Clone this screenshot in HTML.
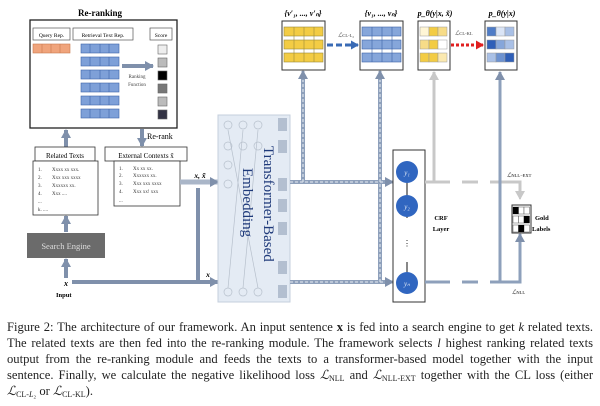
<!DOCTYPE html>
<html><head><meta charset="utf-8"><style>
body{margin:0;background:#fff;width:600px;height:406px;overflow:hidden}
svg{position:absolute;left:0;top:0}
.cap{position:absolute;left:7px;top:319px;width:586px;font-family:"Liberation Serif",serif;font-size:12.6px;line-height:16px;color:#222;text-align:justify}
.cap sub{font-size:8px;line-height:0;vertical-align:-2px}
.nw{white-space:nowrap}
</style></head><body>
<svg width="600" height="310" viewBox="0 0 600 310" font-family="Liberation Serif, serif">
<defs>
<marker id="ab" markerUnits="userSpaceOnUse" markerWidth="9" markerHeight="10" refX="8" refY="5" orient="auto"><path d="M0,0L9,5L0,10z" fill="#7f90ab"/></marker>
<marker id="ag" markerUnits="userSpaceOnUse" markerWidth="9" markerHeight="10" refX="8" refY="5" orient="auto"><path d="M0,0L9,5L0,10z" fill="#c8c8c8"/></marker>
<marker id="ad" markerUnits="userSpaceOnUse" markerWidth="8" markerHeight="9" refX="7" refY="4.5" orient="auto"><path d="M0,0L8,4.5L0,9z" fill="#3a6bb5"/></marker>
<marker id="ar" markerUnits="userSpaceOnUse" markerWidth="8" markerHeight="9" refX="7" refY="4.5" orient="auto"><path d="M0,0L8,4.5L0,9z" fill="#e02020"/></marker>
</defs>
<text x="100" y="16" font-size="9" font-weight="bold" text-anchor="middle">Re-ranking</text>
<rect x="30" y="20" width="147" height="108" fill="#fff" stroke="#222" stroke-width="1.3"/>
<rect x="33" y="28" width="37" height="12" fill="#fff" stroke="#555" stroke-width=".7"/>
<text x="51.5" y="37" font-size="5.5" text-anchor="middle">Query Rep.</text>
<rect x="73" y="28" width="60" height="12" fill="#fff" stroke="#555" stroke-width=".7"/>
<text x="103" y="37" font-size="5.5" text-anchor="middle">Retrieval Text Rep.</text>
<rect x="150" y="28" width="22" height="12" fill="#fff" stroke="#555" stroke-width=".7"/>
<text x="161" y="37" font-size="5.5" text-anchor="middle">Score</text>
<g stroke="#c97a50" stroke-width=".6" fill="#f0a47c"><rect x="33" y="44" width="37" height="9"/><path d="M42,44v9M51,44v9M60,44v9"/></g>
<g fill="#7ea0d8" stroke="#3f64a8" stroke-width=".6">
<rect x="81" y="44" width="38" height="9"/><rect x="81" y="57" width="38" height="9"/><rect x="81" y="70" width="38" height="9"/><rect x="81" y="83" width="38" height="9"/><rect x="81" y="96" width="38" height="9"/><rect x="81" y="109" width="38" height="9"/>
<path d="M90,44v9M100,44v9M109,44v9M90,57v9M100,57v9M109,57v9M90,70v9M100,70v9M109,70v9M90,83v9M100,83v9M109,83v9M90,96v9M100,96v9M109,96v9M90,109v9M100,109v9M109,109v9"/></g>
<path d="M122,66H153" stroke="#7f90ab" stroke-width="4" marker-end="url(#ab)"/>
<text x="137" y="78" font-size="5" text-anchor="middle" fill="#444">Ranking</text>
<text x="137" y="86" font-size="5" text-anchor="middle" fill="#444">Function</text>
<g stroke="#666" stroke-width=".6"><rect x="158" y="45" width="9" height="9" fill="#eee"/><rect x="158" y="58" width="9" height="9" fill="#bbb"/><rect x="158" y="71" width="9" height="9" fill="#000"/><rect x="158" y="84" width="9" height="9" fill="#777"/><rect x="158" y="97" width="9" height="9" fill="#bbb"/><rect x="158" y="110" width="9" height="9" fill="#334"/></g>
<path d="M66,147V130" stroke="#7f90ab" stroke-width="4" marker-end="url(#ab)"/>
<path d="M142,129V146" stroke="#7f90ab" stroke-width="4" marker-end="url(#ab)"/>
<text x="147" y="139" font-size="8">Re-rank</text>
<path d="M66,232V216" stroke="#7f90ab" stroke-width="4" marker-end="url(#ab)"/>
<path d="M66,278V259" stroke="#7f90ab" stroke-width="4" marker-end="url(#ab)"/>
<rect x="35" y="147" width="60" height="14" fill="#fff" stroke="#333" stroke-width=".8"/>
<text x="65" y="158" font-size="7" text-anchor="middle">Related Texts</text>
<rect x="33" y="161" width="65" height="54" fill="#fff" stroke="#333" stroke-width=".8"/>
<g font-size="5" fill="#333"><text x="38" y="171">1.</text><text x="52" y="171">Xxxx xx xxx.</text><text x="38" y="179">2.</text><text x="52" y="179">Xxx xxx xxxx</text><text x="38" y="187">3.</text><text x="52" y="187">Xxxxxx xx.</text><text x="38" y="195">4.</text><text x="52" y="195">Xxx ....</text><text x="38" y="203">...</text><text x="38" y="211">k.   ....</text></g>
<rect x="105" y="147" width="82" height="14" fill="#fff" stroke="#333" stroke-width=".8"/>
<text x="146" y="158" font-size="7" text-anchor="middle">External Contexts x̃</text>
<rect x="114" y="161" width="66" height="45" fill="#fff" stroke="#333" stroke-width=".8"/>
<g font-size="5" fill="#333"><text x="119" y="170">1.</text><text x="133" y="170">Xx xx xx.</text><text x="119" y="177">2.</text><text x="133" y="177">Xxxxxx xx.</text><text x="119" y="185">3.</text><text x="133" y="185">Xxx xxx xxxx</text><text x="119" y="193">4.</text><text x="133" y="193">Xxx xx! xxx</text><text x="119" y="202">...</text></g>
<rect x="27" y="233" width="78" height="25" fill="#6b6b6b"/>
<text x="66" y="249" font-size="8.5" text-anchor="middle" fill="#ddd">Search Engine</text>
<text x="66" y="286" font-size="8" font-style="italic" font-weight="bold" text-anchor="middle">x</text>
<text x="56" y="297" font-size="6.5" font-weight="bold">Input</text>
<path d="M72,282H218" stroke="#7f90ab" stroke-width="4" marker-end="url(#ab)"/>
<path d="M198,282V188" stroke="#7f90ab" stroke-width="4"/>
<path d="M180,182H218" stroke="#aab6c8" stroke-width="5" marker-end="url(#ab)"/>
<text x="200" y="178" font-size="7.5" font-style="italic" font-weight="bold" text-anchor="middle">x, x̃</text>
<text x="208" y="277" font-size="7.5" font-style="italic" font-weight="bold" text-anchor="middle">x</text>
<rect x="218" y="115" width="72" height="187" fill="#e4ebf4" stroke="#c5cfdc"/>
<g fill="none" stroke="#b7c0cc" stroke-width=".7">
<circle cx="228" cy="125" r="4"/><circle cx="243" cy="125" r="4"/><circle cx="258" cy="125" r="4"/>
<circle cx="228" cy="146" r="4"/><circle cx="243" cy="146" r="4"/><circle cx="258" cy="146" r="4"/>
<circle cx="228" cy="165" r="4"/><circle cx="228" cy="184" r="4"/>
<circle cx="228" cy="292" r="4"/><circle cx="243" cy="292" r="4"/><circle cx="258" cy="292" r="4"/>
<path d="M228,130L258,288M243,130L228,288M258,130L243,288"/></g>
<g fill="#b3bfd0"><rect x="278" y="118" width="9" height="13"/><rect x="278" y="140" width="9" height="13"/><rect x="278" y="178" width="9" height="13"/><rect x="278" y="199" width="9" height="13"/><rect x="278" y="222" width="9" height="13"/><rect x="278" y="261" width="9" height="13"/><rect x="278" y="285" width="9" height="13"/></g>
<text transform="translate(264,146) rotate(90)" font-size="15" fill="#1f3a7a">Transformer-Based</text>
<text transform="translate(243,168) rotate(90)" font-size="15" fill="#1f3a7a">Embedding</text>
<g stroke="#8ea0bb" stroke-width="4" fill="none"><path d="M290,182H386M303,182V76M290,282H386M380,282V76"/></g>
<g stroke="#d6dde8" stroke-width="1.3" stroke-dasharray="3 2" fill="none"><path d="M290,182H386M303,182V76M290,282H386M380,282V76"/></g>
<path d="M385,182H393" stroke="#8ea0bb" stroke-width="3" marker-end="url(#ab)"/>
<path d="M385,282H393" stroke="#8ea0bb" stroke-width="3" marker-end="url(#ab)"/>
<path d="M303,80V71" stroke="#8ea0bb" stroke-width="3" marker-end="url(#ab)"/>
<path d="M380,80V71" stroke="#8ea0bb" stroke-width="3" marker-end="url(#ab)"/>
<g font-size="8" font-style="italic" font-weight="bold" text-anchor="middle">
<text x="303" y="16">{v′₁, ..., v′ₙ}</text><text x="381" y="16">{v₁, ..., vₙ}</text><text x="435" y="16">p_θ(y|x, x̃)</text><text x="502" y="16">p_θ(y|x)</text></g>
<rect x="282" y="21" width="43" height="49" fill="#fff" stroke="#333"/>
<g fill="#f3cc44" stroke="#9c8a3a" stroke-width=".6"><rect x="284" y="27" width="39" height="9"/><rect x="284" y="40" width="39" height="9"/><rect x="284" y="53" width="39" height="9"/><path d="M294,27v35M304,27v35M314,27v35"/></g>
<rect x="360" y="21" width="43" height="49" fill="#fff" stroke="#333"/>
<g fill="#86a6da" stroke="#3f64a8" stroke-width=".6"><rect x="362" y="27" width="39" height="9"/><rect x="362" y="40" width="39" height="9"/><rect x="362" y="53" width="39" height="9"/><path d="M372,27v35M382,27v35M392,27v35"/></g>
<rect x="418" y="21" width="32" height="49" fill="#fff" stroke="#333"/>
<g stroke="#999" stroke-width=".5"><rect x="420" y="27" width="9" height="9" fill="#fff6d6"/><rect x="429" y="27" width="9" height="9" fill="#f3cc44"/><rect x="438" y="27" width="9" height="9" fill="#f7dc88"/>
<rect x="420" y="40" width="9" height="9" fill="#f7dc88"/><rect x="429" y="40" width="9" height="9" fill="#f3cc44"/><rect x="438" y="40" width="9" height="9" fill="#fff"/>
<rect x="420" y="53" width="9" height="9" fill="#f3cc44"/><rect x="429" y="53" width="9" height="9" fill="#f3cc44"/><rect x="438" y="53" width="9" height="9" fill="#fbe9b0"/></g>
<rect x="485" y="21" width="32" height="49" fill="#fff" stroke="#333"/>
<g stroke="#999" stroke-width=".5"><rect x="487" y="27" width="9" height="9" fill="#4f7cc6"/><rect x="496" y="27" width="9" height="9" fill="#dbe5f6"/><rect x="505" y="27" width="9" height="9" fill="#a9c0e6"/>
<rect x="487" y="40" width="9" height="9" fill="#2f5fb8"/><rect x="496" y="40" width="9" height="9" fill="#86a6da"/><rect x="505" y="40" width="9" height="9" fill="#a9c0e6"/>
<rect x="487" y="53" width="9" height="9" fill="#a9c0e6"/><rect x="496" y="53" width="9" height="9" fill="#6d92d0"/><rect x="505" y="53" width="9" height="9" fill="#2f5fb8"/></g>
<path d="M327,45H358" stroke="#3a6bb5" stroke-width="3" stroke-dasharray="6 3" marker-end="url(#ad)"/>
<text x="338" y="37" font-size="6" font-style="italic" fill="#333">ℒ<tspan font-size="4.5" font-style="normal">CL-L₂</tspan></text>
<path d="M451,45H483" stroke="#e02020" stroke-width="3" stroke-dasharray="3 2" marker-end="url(#ar)"/>
<text x="455" y="35" font-size="6" font-style="italic" fill="#333">ℒ<tspan font-size="4.5" font-style="normal">CL-KL</tspan></text>
<rect x="393" y="150" width="32" height="152" fill="#fff" stroke="#333"/>
<path d="M407,172V283" stroke="#111" stroke-width="1"/>
<rect x="404" y="218" width="6" height="44" fill="#fff"/>
<text x="407" y="246" font-size="8" text-anchor="middle">⋮</text>
<g fill="#3066c0"><circle cx="407" cy="172" r="11"/><circle cx="407" cy="206" r="11"/><circle cx="407" cy="283" r="11"/></g>
<g fill="#dfe8f7" font-size="7" font-style="italic" text-anchor="middle"><text x="407" y="175">y₁</text><text x="407" y="209">y₂</text><text x="407" y="286">yₙ</text></g>
<text x="441" y="220" font-size="6.5" font-weight="bold" text-anchor="middle">CRF</text>
<text x="441" y="231" font-size="6.5" font-weight="bold" text-anchor="middle">Layer</text>
<path d="M425,182H450M462,182H478M490,182H520V193" stroke="#c8c8c8" stroke-width="3" fill="none"/>
<path d="M520,192v7" stroke="#c8c8c8" stroke-width="2" marker-end="url(#ag)"/>
<path d="M434,182V72" stroke="#c8c8c8" stroke-width="3" marker-end="url(#ag)"/>
<path d="M425,282H450M462,282H478M490,282H520V242" stroke="#8ea0bb" stroke-width="3" fill="none"/>
<path d="M520,243v-9" stroke="#8ea0bb" stroke-width="3" marker-end="url(#ab)"/>
<path d="M500,282V72" stroke="#8ea0bb" stroke-width="3" marker-end="url(#ab)"/>
<text x="507" y="177" font-size="6" font-style="italic">ℒ<tspan font-size="4.5" font-style="normal">NLL−EXT</tspan></text>
<text x="512" y="294" font-size="6" font-style="italic">ℒ<tspan font-size="4.5" font-style="normal">NLL</tspan></text>
<rect x="512" y="205" width="19" height="28" fill="#fff" stroke="#333"/>
<g stroke="#555" stroke-width=".5" fill="#fff"><rect x="513" y="207" width="5.5" height="7"/><rect x="518.5" y="207" width="5.5" height="7"/><rect x="524" y="207" width="5.5" height="7"/><rect x="513" y="216" width="5.5" height="7"/><rect x="518.5" y="216" width="5.5" height="7"/><rect x="524" y="216" width="5.5" height="7"/><rect x="513" y="225" width="5.5" height="7"/><rect x="518.5" y="225" width="5.5" height="7"/><rect x="524" y="225" width="5.5" height="7"/></g>
<g fill="#000"><rect x="513" y="207" width="5.5" height="7"/><rect x="524" y="216" width="5.5" height="7"/><rect x="518.5" y="225" width="5.5" height="7"/></g>
<text x="535" y="220" font-size="6.5" font-weight="bold">Gold</text>
<text x="532" y="231" font-size="6.5" font-weight="bold">Labels</text>
</svg>
<div class="cap">Figure 2: The architecture of our framework. An input sentence <b>x</b> is fed into a search engine to get <i>k</i> related texts. The related texts are then fed into the re-ranking module. The framework selects <i>l</i> highest ranking related texts output from the re-ranking module and feeds the texts to a transformer-based model together with the input sentence. Finally, we calculate the negative likelihood loss <span class="nw"><i>ℒ</i><sub>NLL</sub></span> and <span class="nw"><i>ℒ</i><sub>NLL-EXT</sub></span> together with the CL loss (either <span class="nw"><i>ℒ</i><sub>CL-<i>L</i>₂</sub></span> or <span class="nw"><i>ℒ</i><sub>CL-KL</sub>).</span></div>
</body></html>
